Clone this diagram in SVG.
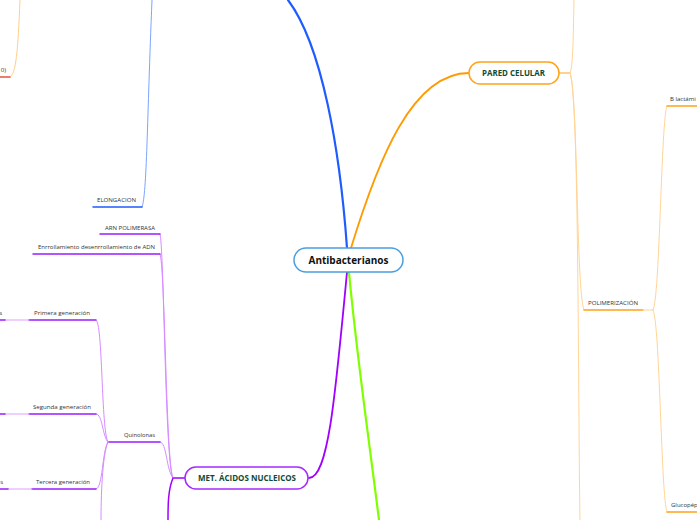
<svg xmlns="http://www.w3.org/2000/svg" width="697" height="520" viewBox="0 0 697 520">
<style>
.c{fill:none;stroke-linecap:round}
.lbl{font-family:"Open Sans","Noto Sans","Liberation Sans",sans-serif;font-size:6px;fill:#333}
.nt{font-family:"Open Sans","Noto Sans","Liberation Sans",sans-serif;font-weight:700;fill:#0e4a33}
.node{fill:#fff;stroke-width:1.5}
</style>
<rect width="697" height="520" fill="#fff"/>
<g id="connectors">
  <path class="c" d="M347,248 C340,150 322,45 288,0" stroke="#1f5cff" stroke-width="2.2"/>
  <path class="c" d="M351,248 C378,160 412,73 469,73" stroke="#ff9a00" stroke-width="1.8"/>
  <path class="c" d="M347,272 C335,400 328,478 309,478" stroke="#a000ff" stroke-width="1.8"/>
  <path class="c" d="M349,272 C356,350 369,440 379,520" stroke="#80ff00" stroke-width="2.2"/>
  <path class="c" d="M559,73 L570,73" stroke="#ffa31a" stroke-width="1.2"/>
  <path class="c" d="M570,73 C573,66 573,45 574,0" stroke="#ffd596" stroke-width="1"/>
  <path class="c" d="M570,73 C578,90 576,292 584,310" stroke="#ffd596" stroke-width="1"/>
  <path class="c" d="M570,73 C579,90 578,400 580,520" stroke="#ffd596" stroke-width="1"/>
  <path class="c" d="M584,310 L643,310" stroke="#ffa31a" stroke-width="1.5"/>
  <path class="c" d="M643,310 L653,310" stroke="#ffd596" stroke-width="1.2"/>
  <path class="c" d="M653,310 C660,300 661,118 667,106" stroke="#ffd596" stroke-width="1"/>
  <path class="c" d="M653,310 C660,320 661,500 667,512" stroke="#ffd596" stroke-width="1"/>
  <path class="c" d="M667,106 L697,106" stroke="#ffa31a" stroke-width="1.5"/>
  <path class="c" d="M667,512 L697,512" stroke="#ffa31a" stroke-width="1.5"/>
  <path class="c" d="M20,0 C18,50 16,75 10,77" stroke="#ffcf8a" stroke-width="1"/>
  <path class="c" d="M0,77 L10,77" stroke="#e8533b" stroke-width="1.5"/>
  <path class="c" d="M142,207 C147,195 147,120 152,0" stroke="#7aa5ff" stroke-width="1"/>
  <path class="c" d="M93,207 L142,207" stroke="#1f5cff" stroke-width="1.5"/>
  <path class="c" d="M185,478 L173,478" stroke="#a000ff" stroke-width="1.5"/>
  <path class="c" d="M160,234 C164,240 165,470 173,478" stroke="#d68cff" stroke-width="1"/>
  <path class="c" d="M160,254 C165,260 166,470 173,478" stroke="#d68cff" stroke-width="1"/>
  <path class="c" d="M160,442 C167,442 166,470 173,478" stroke="#d68cff" stroke-width="1"/>
  <path class="c" d="M173,478 C168,490 168,505 168,520" stroke="#a000ff" stroke-width="1.5"/>
  <path class="c" d="M100,234 L160,234" stroke="#9b1cff" stroke-width="1.5"/>
  <path class="c" d="M33,254 L160,254" stroke="#9b1cff" stroke-width="1.5"/>
  <path class="c" d="M108,442 L160,442" stroke="#9b1cff" stroke-width="1.5"/>
  <path class="c" d="M96,320 C103,320 101,432 108,442" stroke="#d68cff" stroke-width="1"/>
  <path class="c" d="M96,414 C103,414 102,436 108,442" stroke="#d68cff" stroke-width="1"/>
  <path class="c" d="M96,489 C103,489 102,450 108,442" stroke="#d68cff" stroke-width="1"/>
  <path class="c" d="M108,442 C102,455 101,500 101,520" stroke="#d68cff" stroke-width="1"/>
  <path class="c" d="M29,320 L96,320" stroke="#9b1cff" stroke-width="1.5"/>
  <path class="c" d="M5,320 L29,320" stroke="#dda0ff" stroke-width="1.2"/>
  <path class="c" d="M0,320 L5,320" stroke="#9b1cff" stroke-width="1.5"/>
  <path class="c" d="M29,414 L96,414" stroke="#9b1cff" stroke-width="1.5"/>
  <path class="c" d="M5,414 L29,414" stroke="#dda0ff" stroke-width="1.2"/>
  <path class="c" d="M0,414 L5,414" stroke="#9b1cff" stroke-width="1.5"/>
  <path class="c" d="M32,489 L96,489" stroke="#9b1cff" stroke-width="1.5"/>
  <path class="c" d="M8,489 L32,489" stroke="#dda0ff" stroke-width="1.2"/>
  <path class="c" d="M0,489 L8,489" stroke="#9b1cff" stroke-width="1.5"/>
</g>
<g id="n-center">
  <rect class="node" x="294" y="248" width="109" height="24" rx="12" stroke="#4a9fe0"/>
  <text x="348.5" y="264" text-anchor="middle" font-family="Open Sans,Noto Sans,Liberation Sans,sans-serif" font-weight="700" font-size="11" fill="#111" textLength="80" lengthAdjust="spacingAndGlyphs">Antibacterianos</text>
</g>
<g id="n-pared">
  <rect class="node" x="469" y="62" width="90" height="22" rx="11" stroke="#ffa31a"/>
  <text class="nt" x="513.5" y="76" text-anchor="middle" font-size="8.5" textLength="63" lengthAdjust="spacingAndGlyphs">PARED CELULAR</text>
</g>
<g id="n-met">
  <rect class="node" x="185" y="467" width="123" height="22" rx="11" stroke="#a52aff"/>
  <text class="nt" x="247" y="481" text-anchor="middle" font-size="8.5" textLength="98" lengthAdjust="spacingAndGlyphs">MET. ÁCIDOS NUCLEICOS</text>
</g>
<g id="n-polim"><text class="lbl" x="588" y="305" textLength="50" lengthAdjust="spacingAndGlyphs">POLIMERIZACIÓN</text></g>
<g id="n-blact"><text class="lbl" x="670" y="101">B lactámi</text></g>
<g id="n-gluco"><text class="lbl" x="671" y="507">Glucopép</text></g>
<g id="n-elong"><text class="lbl" x="97" y="202" textLength="39" lengthAdjust="spacingAndGlyphs">ELONGACION</text></g>
<g id="n-topleft"><text class="lbl" x="6" y="72" text-anchor="end">0)</text></g>
<g id="n-arn"><text class="lbl" x="155" y="230" text-anchor="end" textLength="50" lengthAdjust="spacingAndGlyphs">ARN POLIMERASA</text></g>
<g id="n-enrr"><text class="lbl" x="155" y="249" text-anchor="end" textLength="117" lengthAdjust="spacingAndGlyphs">Enrrollamiento desenrrollamiento de ADN</text></g>
<g id="n-quin"><text class="lbl" x="155" y="437" text-anchor="end" textLength="31" lengthAdjust="spacingAndGlyphs">Quinolonas</text></g>
<g id="n-prim"><text class="lbl" x="90" y="315" text-anchor="end" textLength="56" lengthAdjust="spacingAndGlyphs">Primera generación</text></g>
<g id="n-seg"><text class="lbl" x="91" y="409" text-anchor="end" textLength="58" lengthAdjust="spacingAndGlyphs">Segunda generación</text></g>
<g id="n-ter"><text class="lbl" x="90" y="484" text-anchor="end" textLength="54" lengthAdjust="spacingAndGlyphs">Tercera generación</text></g>
<g id="n-left1"><text class="lbl" x="2" y="315" text-anchor="end">s</text></g>
<g id="n-left3"><text class="lbl" x="3" y="484" text-anchor="end">s</text></g>
</svg>
